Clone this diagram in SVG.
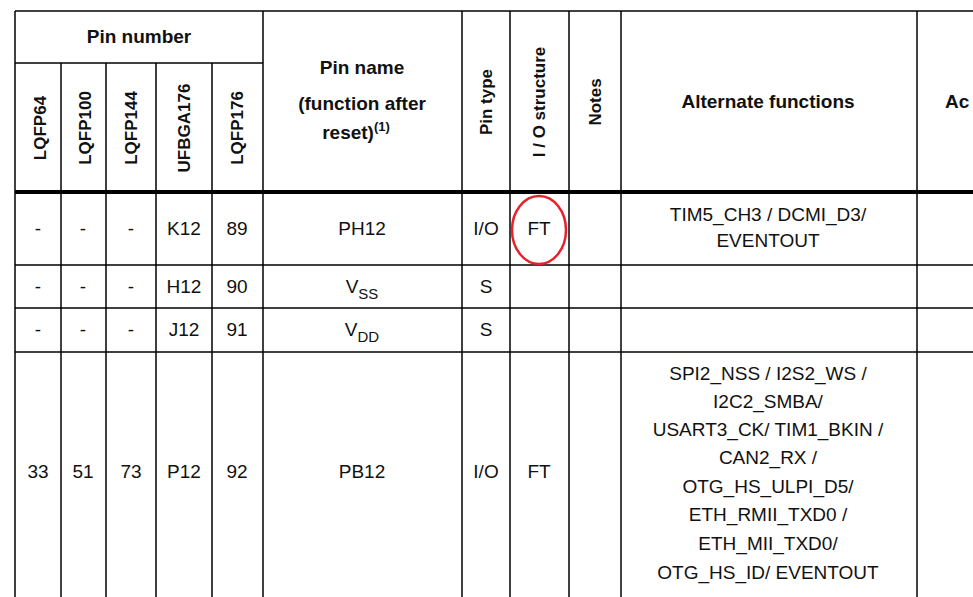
<svg xmlns="http://www.w3.org/2000/svg" width="973" height="597" viewBox="0 0 973 597">
<style>
.g line{stroke:#000;stroke-width:1.5}
text{font-family:"Liberation Sans",Arial,sans-serif;font-size:19px;fill:#111;text-anchor:middle}
.h{font-weight:bold;font-size:19px}
.v{font-weight:bold;font-size:17px}
</style>
<rect width="973" height="597" fill="#fff"/>
<g id="grid" class="g">
<line x1="15" y1="11" x2="973" y2="11"/>
<line x1="15" y1="63" x2="263" y2="63"/>
<line x1="15" y1="192" x2="973" y2="192" style="stroke-width:4"/>
<line x1="15" y1="265" x2="973" y2="265"/>
<line x1="15" y1="308" x2="973" y2="308"/>
<line x1="15" y1="352" x2="973" y2="352"/>
<line x1="15" y1="11" x2="15" y2="597"/>
<line x1="61" y1="63" x2="61" y2="597"/>
<line x1="106" y1="63" x2="106" y2="597"/>
<line x1="156" y1="63" x2="156" y2="597"/>
<line x1="212" y1="63" x2="212" y2="597"/>
<line x1="263" y1="11" x2="263" y2="597"/>
<line x1="462" y1="11" x2="462" y2="597"/>
<line x1="510" y1="11" x2="510" y2="597"/>
<line x1="569" y1="11" x2="569" y2="597"/>
<line x1="621" y1="11" x2="621" y2="597"/>
<line x1="917" y1="11" x2="917" y2="597"/>
</g>
<g id="header">
<text class="h" x="139" y="43">Pin number</text>
<text class="v" transform="translate(46,128) rotate(-90)">LQFP64</text>
<text class="v" transform="translate(91,128) rotate(-90)">LQFP100</text>
<text class="v" transform="translate(137,128) rotate(-90)">LQFP144</text>
<text class="v" transform="translate(190,128) rotate(-90)">UFBGA176</text>
<text class="v" transform="translate(243,128) rotate(-90)">LQFP176</text>
<text class="h" x="362" y="74">Pin name</text>
<text class="h" x="362" y="110">(function after</text>
<text class="h" x="356" y="139">reset)<tspan dy="-8" font-size="13">(1)</tspan></text>
<text class="v" transform="translate(492,102) rotate(-90)">Pin type</text>
<text class="v" transform="translate(545,102) rotate(-90)">I / O structure</text>
<text class="v" transform="translate(601,102) rotate(-90)">Notes</text>
<text class="h" x="768" y="108">Alternate functions</text>
<text class="h" x="945" y="108" text-anchor="start" style="text-anchor:start">Ac</text>
</g>
<g id="row1">
<text x="38" y="235">-</text><text x="83" y="235">-</text><text x="131" y="235">-</text>
<text x="184" y="235">K12</text><text x="237" y="235">89</text>
<text x="362" y="235">PH12</text><text x="486" y="235">I/O</text><text x="539" y="235">FT</text>
<text x="768" y="221">TIM5_CH3 / DCMI_D3/</text><text x="768" y="247">EVENTOUT</text>
<ellipse cx="539" cy="230" rx="27" ry="34" fill="none" stroke="#e8202a" stroke-width="2.5"/>
</g>
<g id="row2">
<text x="38" y="293">-</text><text x="83" y="293">-</text><text x="131" y="293">-</text>
<text x="184" y="293">H12</text><text x="237" y="293">90</text>
<text x="362" y="293">V<tspan dy="6" font-size="15">SS</tspan></text><text x="486" y="293">S</text>
</g>
<g id="row3">
<text x="38" y="336">-</text><text x="83" y="336">-</text><text x="131" y="336">-</text>
<text x="184" y="336">J12</text><text x="237" y="336">91</text>
<text x="362" y="336">V<tspan dy="6" font-size="15">DD</tspan></text><text x="486" y="336">S</text>
</g>
<g id="row4">
<text x="38" y="478">33</text><text x="83" y="478">51</text><text x="131" y="478">73</text>
<text x="184" y="478">P12</text><text x="237" y="478">92</text>
<text x="362" y="478">PB12</text><text x="486" y="478">I/O</text><text x="539" y="478">FT</text>
<text x="768" y="380">SPI2_NSS / I2S2_WS /</text>
<text x="768" y="408">I2C2_SMBA/</text>
<text x="768" y="436">USART3_CK/ TIM1_BKIN /</text>
<text x="768" y="464">CAN2_RX /</text>
<text x="768" y="493">OTG_HS_ULPI_D5/</text>
<text x="768" y="521">ETH_RMII_TXD0 /</text>
<text x="768" y="550">ETH_MII_TXD0/</text>
<text x="768" y="579">OTG_HS_ID/ EVENTOUT</text>
</g>
</svg>
